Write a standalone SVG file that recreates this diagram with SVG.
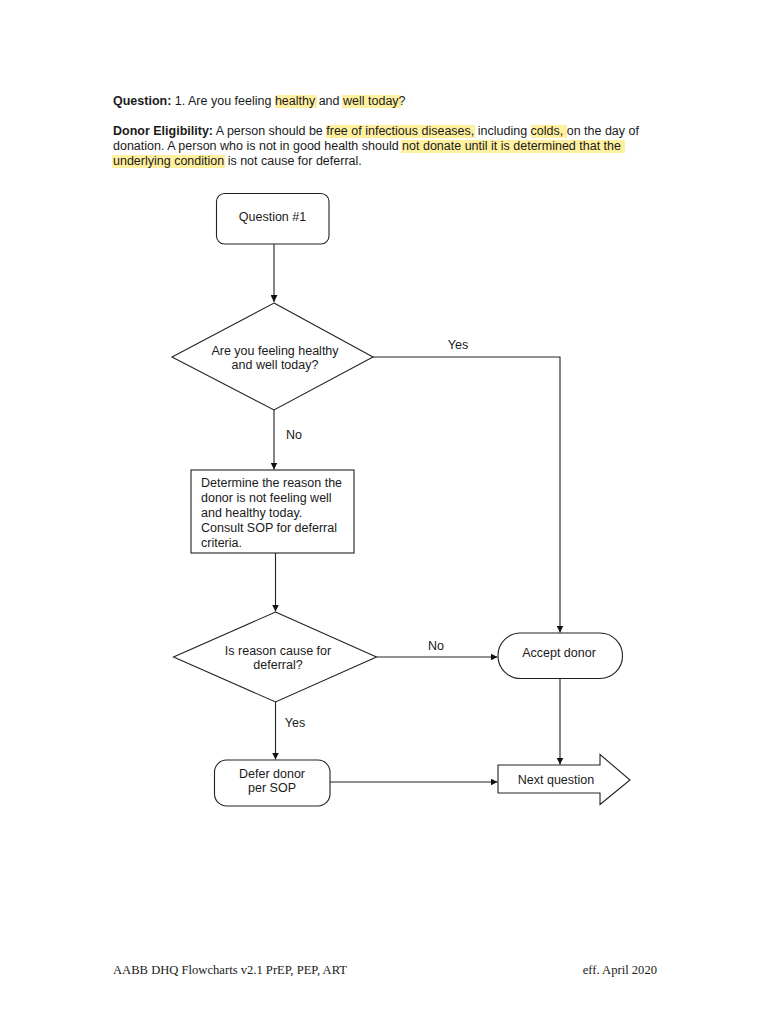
<svg xmlns="http://www.w3.org/2000/svg" width="768" height="1024" viewBox="0 0 768 1024">
<style>
  .t { font-family: "Liberation Sans", Arial, sans-serif; font-size: 12.5px; fill: #1a1a1a; }
  .b { font-weight: bold; }
  .c { text-anchor: middle; }
  .hl { fill: #fff0a0; }
  .shape { fill: #ffffff; stroke: #222222; stroke-width: 1.1; }
  .edge { fill: none; stroke: #222222; stroke-width: 1.1; }
  .foot { font-family: "Liberation Serif", "Times New Roman", serif; font-size: 12.6px; fill: #1a1a1a; }
</style>
<defs>
  <marker id="arr" viewBox="0 0 10 10" refX="10" refY="5" markerWidth="7" markerHeight="7" markerUnits="userSpaceOnUse" orient="auto">
    <path d="M0,0 L10,5 L0,10 z" fill="#111111"/>
  </marker>
</defs>
<rect width="768" height="1024" fill="#ffffff"/>

<g id="header">
  <rect class="hl" x="275" y="95" width="42" height="13"/>
  <rect class="hl" x="342" y="95" width="59" height="13"/>
  <rect class="hl" x="326" y="125" width="149" height="13"/>
  <rect class="hl" x="531" y="125" width="36" height="13"/>
  <rect class="hl" x="401" y="140" width="224" height="13"/>
  <rect class="hl" x="112" y="155" width="113" height="13"/>
  <text class="t" x="113" y="105"><tspan class="b">Question:</tspan> 1. Are you feeling healthy and well today?</text>
  <text class="t" x="113" y="135"><tspan class="b">Donor Eligibility:</tspan> A person should be free of infectious diseases, including colds, on the day of</text>
  <text class="t" x="113" y="150">donation. A person who is not in good health should not donate until it is determined that the</text>
  <text class="t" x="113" y="165">underlying condition is not cause for deferral.</text>
</g>

<g id="connectors">
  <path class="edge" d="M274,244 V302" marker-end="url(#arr)"/>
  <path class="edge" d="M373,357 H560 V632.5" marker-end="url(#arr)"/>
  <path class="edge" d="M274,410 V469.5" marker-end="url(#arr)"/>
  <path class="edge" d="M275.5,553 V611.5" marker-end="url(#arr)"/>
  <path class="edge" d="M376.5,657 H497.5" marker-end="url(#arr)"/>
  <path class="edge" d="M275.5,702 V759.5" marker-end="url(#arr)"/>
  <path class="edge" d="M330,782 H497.5" marker-end="url(#arr)"/>
  <path class="edge" d="M560,678.5 V764.5" marker-end="url(#arr)"/>
  <text class="t c" x="458" y="349">Yes</text>
  <text class="t" x="286" y="439">No</text>
  <text class="t c" x="436" y="650">No</text>
  <text class="t c" x="295" y="727">Yes</text>
</g>

<g id="q1">
  <rect class="shape" x="216.5" y="193.5" width="112.5" height="50.5" rx="8"/>
  <text class="t c" x="272.5" y="221">Question #1</text>
</g>

<g id="d1">
  <polygon class="shape" points="274,303 373,357 274,410 172,357"/>
  <text class="t c" x="275" y="355">Are you feeling healthy</text>
  <text class="t c" x="275" y="369">and well today?</text>
</g>

<g id="determine">
  <rect class="shape" x="191" y="470" width="163" height="83"/>
  <text class="t" x="201" y="486.5">Determine the reason the</text>
  <text class="t" x="201" y="501.5">donor is not feeling well</text>
  <text class="t" x="201" y="516.5">and healthy today.</text>
  <text class="t" x="201" y="531.5">Consult SOP for deferral</text>
  <text class="t" x="201" y="546.5">criteria.</text>
</g>

<g id="d2">
  <polygon class="shape" points="275.5,612 376.5,657 275.5,702 173.5,657"/>
  <text class="t c" x="278" y="655">Is reason cause for</text>
  <text class="t c" x="278" y="669">deferral?</text>
</g>

<g id="accept">
  <rect class="shape" x="498" y="633" width="124.5" height="45.5" rx="22.5"/>
  <text class="t c" x="559" y="657">Accept donor</text>
</g>

<g id="defer">
  <rect class="shape" x="214.5" y="760" width="115.5" height="46" rx="12"/>
  <text class="t c" x="272" y="778">Defer donor</text>
  <text class="t c" x="272" y="792">per SOP</text>
</g>

<g id="next">
  <polygon class="shape" points="498,765 600,765 600,754.5 630,780 600,804.5 600,793 498,793"/>
  <text class="t c" x="556" y="784">Next question</text>
</g>

<g id="footer">
  <text class="foot" x="113" y="974">AABB DHQ Flowcharts v2.1 PrEP, PEP, ART</text>
  <text class="foot" x="657" y="974" text-anchor="end">eff. April 2020</text>
</g>
</svg>
